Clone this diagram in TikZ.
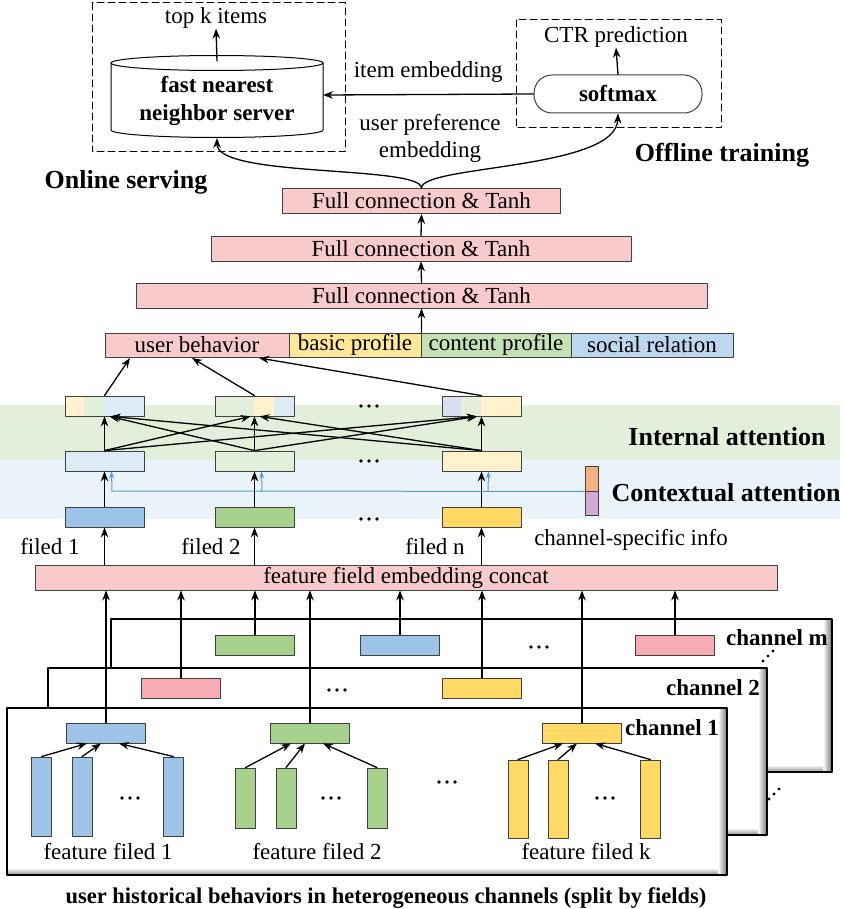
\documentclass[tikz,border=0pt]{standalone}
\usepackage{fontspec}
\setmainfont{Liberation Serif}
\usetikzlibrary{arrows.meta}
\definecolor{fcpink}{HTML}{F9CACB}
\definecolor{chpink}{HTML}{F5ADB3}
\definecolor{segylw}{HTML}{FFE699}
\definecolor{seggrn}{HTML}{C5E0B4}
\definecolor{segblu}{HTML}{BDD7EE}
\definecolor{dblu}{HTML}{9DC3E6}
\definecolor{dgrn}{HTML}{A9D18E}
\definecolor{dylw}{HTML}{FFD966}
\definecolor{lblu}{HTML}{DDEBF7}
\definecolor{lgrn}{HTML}{E2EFDA}
\definecolor{lylw}{HTML}{FFF2CC}
\definecolor{llav}{HTML}{D9DFF2}
\definecolor{bandgrn}{HTML}{E3EFDB}
\definecolor{bandblu}{HTML}{EAF2FA}
\definecolor{ctxorg}{HTML}{F4B183}
\definecolor{ctxpur}{HTML}{D3A9D6}
\definecolor{ctxline}{HTML}{5B9BD5}
\newcommand\regfont{\fontsize{23}{28}\selectfont}
\newcommand\midbold{\fontsize{23}{28}\selectfont\bfseries}
\newcommand\bigbold{\fontsize{26}{29}\selectfont\bfseries}
\tikzset{
  bar/.style={draw=black!75, line width=0.8pt, inner sep=0pt, text=black},
  fcbar/.style={bar, fill=fcpink, minimum height=25pt},
  segbar/.style={bar, minimum height=24pt},
  fbox/.style={bar, minimum width=79pt, minimum height=20pt},
  fcol/.style={bar, minimum width=20pt},
  lbl/.style={inner sep=0pt},
  arr/.style={->, line width=1.3pt},
  dashbox/.style={dash pattern=on 7pt off 4pt, line width=1pt},
  chan/.style={draw=black, line width=2.2pt, fill=white},
}
% channel frame with a shaded inner edge
\newcommand\chanframe[4]{%
  \fill[white] (#1,#2) rectangle (#3,#4);
  \shade[left color=white, right color=black!55] (#3-9,#2) rectangle (#3,#4);
  \shade[top color=white, bottom color=black!45] (#1,#4-7) rectangle (#3-9,#4);
  \draw[chan, fill=none] (#1,#2) rectangle (#3,#4);}
% three dots in a row
\newcommand\rowdots[2]{\fill (#1,#2) ++(-8pt,0) circle (1.8pt) ++(8pt,0) circle (1.8pt) ++(8pt,0) circle (1.8pt);}
\begin{document}
\begin{tikzpicture}[x=1pt, y=-1pt, font=\regfont, line join=round, line cap=round, >={Stealth[length=10pt, width=7.5pt]}]
\useasboundingbox (0,0) rectangle (843,909);

% attention bands
\fill[bandgrn] (0,405) rectangle (840,460);
\fill[bandblu] (0,460) rectangle (840,519);

% online serving
\draw[dashbox] (92,3) rectangle (345,152);
\fill[white] (111,63) -- (111,130) arc[start angle=180, end angle=360, x radius=106pt, y radius=7.5pt] -- (323,63) -- cycle;
\draw[line width=1pt] (111,63) -- (111,130) arc[start angle=180, end angle=360, x radius=106pt, y radius=7.5pt] -- (323,63);
\draw[line width=1pt] (217,63) ellipse[x radius=106pt, y radius=7.5pt];
\node[lbl, align=center, font=\midbold] (fnn) at (217,101) {fast nearest\\neighbor server};
\coordinate (fnntop) at (217,61);
\coordinate (fnnbot) at (217,138);
\coordinate (fnneast) at (323,95);
\node[lbl] (topk) at (216,18) {top k items};
\node[lbl] at (126,182) {\bigbold Online serving};

% offline training
\draw[dashbox] (516,20) rectangle (721,128);
\node[bar, line width=1pt, fill=white, rounded corners=18pt, minimum width=168pt, minimum height=38pt, font=\midbold] (soft) at (618,94) {softmax};
\node[lbl] (ctr) at (616,37) {CTR prediction};
\node[lbl] (offl) at (722,155) {\bigbold Offline training};

\draw[arr] (fnntop) -- (topk.south);
\draw[arr] (soft.north) -- (ctr.south);
\draw[arr] (soft.west) -- node[lbl, above=11pt] {item embedding} (fnneast);
\node[lbl, align=center, font=\fontsize{23}{27}\selectfont] (upe) at (430,138) {user preference\\embedding};

% fully connected layers
\node[fcbar, minimum width=278pt] (fc1) at (421.5,201) {Full connection \& Tanh};
\node[fcbar, minimum width=420pt] (fc2) at (421,248.5) {Full connection \& Tanh};
\node[fcbar, minimum width=571pt] (fc3) at (421.5,295.5) {Full connection \& Tanh};
\draw[arr] (fc1.north) .. controls (421,165) and (217,178) .. (fnnbot);
\draw[arr] (fc1.north) .. controls (421,165) and (616,170) .. (soft.south);
\draw[arr] (fc2.north) -- (fc1.south);
\draw[arr] (fc3.north) -- (fc2.south);

% concatenated profile
\node[segbar, fill=fcpink, minimum width=184pt] (ub) at (197,345) {user behavior};
\node[segbar, fill=segylw, minimum width=132pt] (bp) at (355,345) {basic profile};
\node[segbar, fill=seggrn, minimum width=150pt] (cp) at (496,345) {content profile};
\node[segbar, fill=segblu, minimum width=162pt] (sr) at (652,345) {social relation};
\draw[arr] (bp.north east) -- (fc3.south);

% internal attention, upper boxes
\fill[lylw] (65,396) rectangle (84,416);
\fill[lgrn] (84,396) rectangle (103,416);
\fill[lblu] (103,396) rectangle (144,416);
\node[fbox] (u1) at (104.5,406) {};
\fill[lgrn] (215,396) rectangle (254,416);
\fill[lylw] (254,396) rectangle (274,416);
\fill[lblu] (274,396) rectangle (294,416);
\node[fbox] (u2) at (254.5,406) {};
\fill[llav] (442,396) rectangle (461,416);
\fill[lgrn] (461,396) rectangle (481,416);
\fill[lylw] (481,396) rectangle (521,416);
\node[fbox] (u3) at (481.5,406) {};
\rowdots{369}{406}

% internal attention, lower boxes
\node[fbox, fill=lblu] (l1) at (104.5,461) {};
\node[fbox, fill=lgrn] (l2) at (254.5,461) {};
\node[fbox, fill=lylw] (l3) at (481.5,461) {};
\rowdots{369}{461}

% field embeddings
\node[fbox, fill=dblu] (f1) at (104.5,517) {};
\node[fbox, fill=dgrn] (f2) at (254.5,517) {};
\node[fbox, fill=dylw] (f3) at (481.5,517) {};
\rowdots{369}{519}
\node[lbl] (fl1) at (50,547) {filed 1};
\node[lbl] (fl2) at (211,547) {filed 2};
\node[lbl] (fl3) at (435,547) {filed n};

\draw[arr] (u1.north) -- (130,358);
\draw[arr] (u2.north) -- (192,358);
\draw[arr] (u3.north) -- (259,358);
\draw[arr] (l1.north) -- (u1.south);
\draw[arr] (l1.north) -- ([xshift=-4pt]u2.south);
\draw[arr] (l1.north) -- ([xshift=-5pt]u3.south);
\draw[arr] (l2.north) -- ([xshift=5pt]u1.south);
\draw[arr] (l2.north) -- (u2.south);
\draw[arr] (l2.north) -- ([xshift=-4pt]u3.south);
\draw[arr] (l3.north) -- ([xshift=6pt]u1.south);
\draw[arr] (l3.north) -- ([xshift=5pt]u2.south);
\draw[arr] (l3.north) -- (u3.south);
\draw[arr] (f1.north) -- (l1.south);
\draw[arr] (f2.north) -- (l2.south);
\draw[arr] (f3.north) -- (l3.south);

% contextual attention
\node[bar, fill=ctxorg, minimum width=13pt, minimum height=25pt] (cxo) at (591.5,478.5) {};
\node[bar, fill=ctxpur, minimum width=13pt, minimum height=24pt] (cxp) at (591.5,503) {};
\node[lbl] (cxl) at (631,540) {channel-specific info};
\draw[ctxline, line width=1pt] (cxo.south west) -- (112,491);
\draw[ctxline, -{Stealth[length=7pt, width=5pt]}, line width=1pt] (112,491) -- ([xshift=7pt]l1.south);
\draw[ctxline, -{Stealth[length=7pt, width=5pt]}, line width=1pt] (262,491) -- ([xshift=7pt]l2.south);
\draw[ctxline, -{Stealth[length=7pt, width=5pt]}, line width=1pt] (488,491) -- ([xshift=7pt]l3.south);
\node[lbl] (ia) at (727,437) {\bigbold Internal attention};
\node[lbl] (ca) at (726,493) {\bigbold Contextual attention};

% feature field embedding concat
\node[fcbar, minimum width=742pt] (ffc) at (406,577.5) {feature field embedding concat};
\draw[arr] (ffc.north -| f1) -- (f1.south);
\draw[arr] (ffc.north -| f2) -- (f2.south);
\draw[arr] (ffc.north -| f3) -- (f3.south);

% channel m
\chanframe{111}{619}{832}{772}
\node[fbox, fill=dgrn] (m1) at (255,645) {};
\node[fbox, fill=dblu] (m2) at (400,645) {};
\node[fbox, fill=chpink] (m3) at (675,645) {};
\rowdots{539}{647}
\node[lbl] (ml) at (777,638) {\midbold channel m};
\fill (763,661) circle (1.7pt) (768,656) circle (1.7pt) (773,651) circle (1.7pt);

% channel 2
\chanframe{48}{668}{767}{835}
\node[fbox, fill=chpink] (s1) at (181,688) {};
\node[fbox, fill=dylw] (s2) at (482,688) {};
\rowdots{337}{690}
\node[lbl] (sl) at (713,688) {\midbold channel 2};
\fill (769,799) circle (1.7pt) (774,794) circle (1.7pt) (779,789) circle (1.7pt);

% channel 1
\chanframe{7}{708}{727}{875}
\node[fbox, fill=dblu] (c1) at (106,733) {};
\node[fbox, fill=dgrn] (c2) at (310,733) {};
\node[fbox, fill=dylw] (c3) at (582,733) {};
\node[lbl] (cl) at (672,728) {\midbold channel 1};

\node[fcol, fill=dblu, minimum height=79pt] (a1) at (41.5,796.5) {};
\node[fcol, fill=dblu, minimum height=79pt] (a2) at (82,796.5) {};
\node[fcol, fill=dblu, minimum height=79pt] (a3) at (173.5,796.5) {};
\node[fcol, fill=dgrn, minimum height=60pt] (b1) at (245.5,798) {};
\node[fcol, fill=dgrn, minimum height=60pt] (b2) at (286,798) {};
\node[fcol, fill=dgrn, minimum height=60pt] (b3) at (377,798) {};
\node[fcol, fill=dylw, minimum height=78pt] (k1) at (518,799) {};
\node[fcol, fill=dylw, minimum height=78pt] (k2) at (558,799) {};
\node[fcol, fill=dylw, minimum height=78pt] (k3) at (650.5,799) {};
\rowdots{130}{798}
\rowdots{331}{798}
\rowdots{605}{798}
\rowdots{447}{782}
\node[lbl] (al) at (108,852) {feature filed 1};
\node[lbl] (bl) at (317,852) {feature filed 2};
\node[lbl] (kl) at (586,852) {feature filed k};

\draw[arr] (a1.north) -- ([xshift=-19pt]c1.south);
\draw[arr] (a2.north) -- ([xshift=-5pt]c1.south);
\draw[arr] (a3.north) -- ([xshift=13pt]c1.south);
\draw[arr] (b1.north) -- ([xshift=-19pt]c2.south);
\draw[arr] (b2.north) -- ([xshift=-5pt]c2.south);
\draw[arr] (b3.north) -- ([xshift=13pt]c2.south);
\draw[arr] (k1.north) -- ([xshift=-19pt]c3.south);
\draw[arr] (k2.north) -- ([xshift=-5pt]c3.south);
\draw[arr] (k3.north) -- ([xshift=13pt]c3.south);

% channels up to the concat
\foreach \c in {c1,c2,c3,s1,s2,m1,m2,m3}
  \draw[arr] (\c.north) -- (ffc.south -| \c.north);

\node[lbl] (cap) at (386,898) {\fontsize{22.5}{27}\selectfont\bfseries user historical behaviors in heterogeneous channels (split by fields)};
\end{tikzpicture}
\end{document}
